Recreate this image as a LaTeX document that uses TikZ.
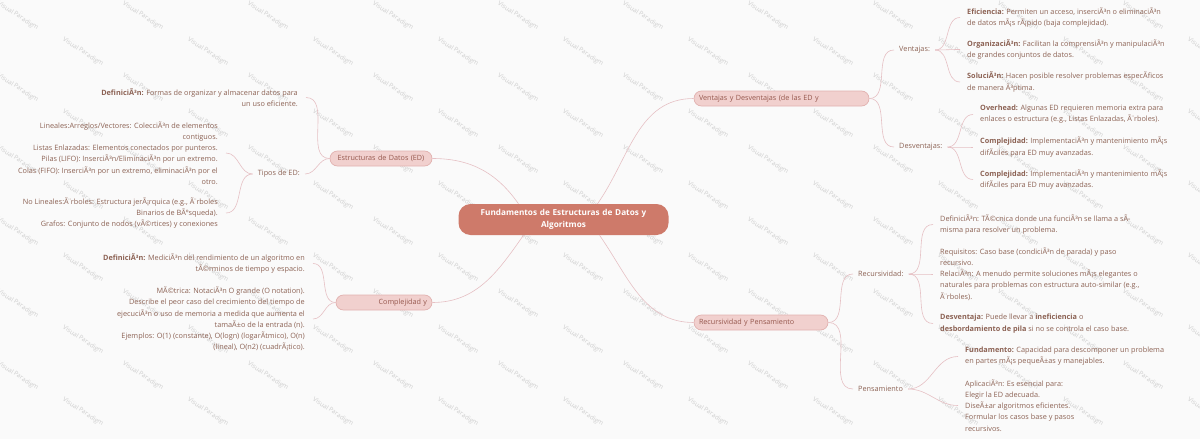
\documentclass[tikz,border=0pt]{standalone}
\usepackage{fontspec}
\setmainfont{Open Sans}
\usepackage{tikz}
\definecolor{paper}{RGB}{250,250,250}
\definecolor{wmgray}{RGB}{206,206,206}
\definecolor{centrefill}{RGB}{206,122,106}
\definecolor{branchfill}{RGB}{241,208,206}
\definecolor{branchline}{RGB}{226,178,176}
\definecolor{branchtext}{RGB}{150,88,78}
\definecolor{leaftext}{RGB}{140,98,84}
\definecolor{linkcol}{RGB}{230,192,196}
\newcommand\arb{Ã\kern-1.3pt¨\kern-0.9pt}

\begin{document}
\begin{tikzpicture}[x=1pt,y=-1pt]
\tikzstyle{wmark}=[text=wmgray,font=\fontsize{6.3}{6}\selectfont,rotate=-33,inner sep=0]
\tikzstyle{centre}=[rectangle,rounded corners=12pt,fill=centrefill,text=white,font=\fontsize{8.2}{12.5}\selectfont\bfseries,text width=210pt,align=center,minimum height=31pt,inner sep=0]
\tikzstyle{branch}=[rectangle,rounded corners=7.5pt,fill=branchfill,draw=branchline,line width=0.7pt,text=branchtext,font=\fontsize{7.2}{8}\selectfont,minimum height=15pt,inner xsep=5pt,inner ysep=0]
\tikzstyle{twig}=[text=leaftext,font=\fontsize{7.3}{11.2}\selectfont,inner xsep=5pt,inner ysep=0]
\tikzstyle{leafl}=[twig,align=left,inner xsep=7pt]
\tikzstyle{leafr}=[twig,align=right,inner xsep=8pt]
\tikzstyle{link}=[draw=linkcol,line width=0.6pt]
\useasboundingbox [fill=paper] (0,0) rectangle (1200,439);
% watermark
\foreach \r in {0,...,11}
  \foreach \k in {0,...,9}
    \node [wmark] (wm\r\k) at ({18+125*\k+65*mod(\r,2)},{16+36*\r}) {Visual Paradigm};
% centre and branches
\node [centre] (fund) at (563.5,219.5) {Fundamentos de Estructuras de Datos y\\Algoritmos};
\node [branch,text width=92pt,align=center] (ed) at (381,158.5) {Estructuras de Datos (ED)};
\node [branch,text width=86pt,align=right] (cx) at (384,302.5) {Complejidad y};
\node [branch,text width=165pt,align=left] (vd) at (781.5,98.5) {Ventajas y Desventajas (de las ED y};
\node [branch,text width=124pt,align=left] (rp) at (761,322.5) {Recursividad y Pensamiento};
% left: estructuras
\node [leafr,anchor=east] (eddef) at (306,97.5) {\textbf{DefiniciÃ³n:} Formas de organizar y almacenar datos para\\un uso eficiente.};
\node [twig,anchor=east] (tipos) at (305,174) {Tipos de ED:};
\node [leafr,anchor=east] (lin) at (226,153) {Lineales:Arreglos/Vectores: ColecciÃ³n de elementos\\contiguos.\\Listas Enlazadas: Elementos conectados por punteros.\\Pilas (LIFO): InserciÃ³n/EliminaciÃ³n por un extremo.\\Colas (FIFO): InserciÃ³n por un extremo, eliminaciÃ³n por el\\otro.};
\node [leafr,anchor=east] (nolin) at (226,213) {No Lineales:\arb rboles: Estructura jerÃ¡rquica (e.g., \arb rboles\\Binarios de BÃºsqueda).\\Grafos: Conjunto de nodos (vÃ©rtices) y conexiones};
% left: complejidad
\node [leafr,anchor=east] (cxdef) at (313,263.5) {\textbf{DefiniciÃ³n:} MediciÃ³n del rendimiento de un algoritmo en\\tÃ©rminos de tiempo y espacio.};
\node [leafr,anchor=east] (metr) at (313,319) {MÃ©trica: NotaciÃ³n O grande (O notation).\\Describe el peor caso del crecimiento del tiempo de\\ejecuciÃ³n o uso de memoria a medida que aumenta el\\tamaÃ±o de la entrada (n).\\Ejemplos: O(1) (constante), O(logn) (logarÃtmico), O(n)\\(lineal), O(n2) (cuadrÃ¡tico).};
% right: ventajas y desventajas
\node [twig,anchor=west] (vent) at (894,50) {Ventajas:};
\node [twig,anchor=west] (desv) at (894,147) {Desventajas:};
\node [leafl,anchor=west] (efic) at (960,17.5) {\textbf{Eficiencia:} Permiten un acceso, inserciÃ³n o eliminaciÃ³n\\de datos mÃ¡s rÃ¡pido (baja complejidad).};
\node [leafl,anchor=west] (orga) at (960,49.5) {\textbf{OrganizaciÃ³n:} Facilitan la comprensiÃ³n y manipulaciÃ³n\\de grandes conjuntos de datos.};
\node [leafl,anchor=west] (solu) at (960,82) {\textbf{SoluciÃ³n:} Hacen posible resolver problemas especÃficos\\de manera Ã³ptima.};
\node [leafl,anchor=west] (over) at (973,114.5) {\textbf{Overhead:} Algunas ED requieren memoria extra para\\enlaces o estructura (e.g., Listas Enlazadas, \arb rboles).};
\node [leafl,anchor=west] (compa) at (973,147) {\textbf{Complejidad:} ImplementaciÃ³n y mantenimiento mÃ¡s\\difÃciles para ED muy avanzadas.};
\node [leafl,anchor=west] (compb) at (973,179.5) {\textbf{Complejidad:} ImplementaciÃ³n y mantenimiento mÃ¡s\\difÃciles para ED muy avanzadas.};
% right: recursividad
\node [twig,anchor=west] (recu) at (853,274) {Recursividad:};
\node [twig,anchor=west] (pens) at (853,389) {Pensamiento};
\node [leafl,anchor=west] (rdef) at (933,224.5) {DefiniciÃ³n: TÃ©cnica donde una funciÃ³n se llama a sÃ-\\misma para resolver un problema.};
\node [leafl,anchor=west] (requ) at (933,274) {Requisitos: Caso base (condiciÃ³n de parada) y paso\\recursivo.\\RelaciÃ³n: A menudo permite soluciones mÃ¡s elegantes o\\naturales para problemas con estructura auto-similar (e.g.,\\\arb rboles).};
\node [leafl,anchor=west] (rdes) at (933,323.5) {\textbf{Desventaja:} Puede llevar a \textbf{ineficiencia} o\\\textbf{desbordamiento de pila} si no se controla el caso base.};
\node [leafl,anchor=west] (fundam) at (958,356.5) {\textbf{Fundamento:} Capacidad para descomponer un problema\\en partes mÃ¡s pequeÃ±as y manejables.};
\node [leafl,anchor=west] (aplic) at (958,405.5) {AplicaciÃ³n: Es esencial para:\\Elegir la ED adecuada.\\DiseÃ±ar algoritmos eficientes.\\Formular los casos base y pasos\\recursivos.};
% connectors
\draw [link] ([xshift=-45pt]fund.north) to[out=125,in=0] (ed.east);
\draw [link] ([xshift=34pt]fund.north) to[out=55,in=180] (vd.west);
\draw [link] ([xshift=-40pt]fund.south) to[out=-125,in=0] (cx.east);
\draw [link] ([xshift=36pt]fund.south) to[out=-55,in=180] (rp.west);
\draw [link] (ed.west) to[out=180,in=0] (eddef.east);
\draw [link] (ed.west) to[out=180,in=0] (tipos.east);
\draw [link] (tipos.west) to[out=180,in=0] (lin.east);
\draw [link] (tipos.west) to[out=180,in=0] (nolin.east);
\draw [link] (cx.west) to[out=180,in=0] (cxdef.east);
\draw [link] (cx.west) to[out=180,in=0] (metr.east);
\draw [link] (vd.east) to[out=0,in=180] (vent.west);
\draw [link] (vd.east) to[out=0,in=180] (desv.west);
\draw [link] (vent.east) to[out=0,in=180] (efic.west);
\draw [link] (vent.east) to[out=0,in=180] (orga.west);
\draw [link] (vent.east) to[out=0,in=180] (solu.west);
\draw [link] (desv.east) to[out=0,in=180] (over.west);
\draw [link] (desv.east) to[out=0,in=180] (compa.west);
\draw [link] (desv.east) to[out=0,in=180] (compb.west);
\draw [link] (rp.east) to[out=0,in=180] (recu.west);
\draw [link] (rp.east) to[out=0,in=180] (pens.west);
\draw [link] (recu.east) to[out=0,in=180] (rdef.west);
\draw [link] (recu.east) to[out=0,in=180] (requ.west);
\draw [link] (recu.east) to[out=0,in=180] (rdes.west);
\draw [link] (pens.east) to[out=0,in=180] (fundam.west);
\draw [link] (pens.east) to[out=0,in=180] (aplic.west);
\end{tikzpicture}
\end{document}
